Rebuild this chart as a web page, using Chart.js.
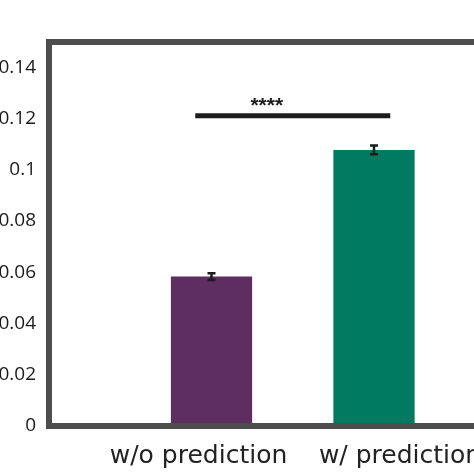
<!DOCTYPE html>
<html>
<head>
<meta charset="utf-8">
<script src="https://cdn.jsdelivr.net/npm/chart.js@4.4.1/dist/chart.umd.min.js"></script>
<style>
  html, body { margin: 0; padding: 0; background: #fff; overflow: hidden; width: 474px; height: 474px; }
  #wrap { position: absolute; left: -10px; top: 0; width: 570px; height: 474px; }
</style>
</head>
<body>
<div id="wrap"><canvas id="barChart" width="570" height="474"></canvas></div>
<script>
// data
const categories = ['', 'w/o prediction', 'w/ prediction', ''];
const meanValues = [null, 0.0583, 0.1077, null];
const errorValues = [null, 0.0013, 0.0017, null];
const barColors = ['#5d2e5f', '#5d2e5f', '#007a60', '#007a60'];
const yTickValues = [0, 0.02, 0.04, 0.06, 0.08, 0.1, 0.12, 0.14];
const yTickLabels = ['0', '0.02', '0.04', '0.06', '0.08', '0.1', '0.12', '0.14'];
const sigLevel = 0.121;
const sigLabel = '****';

const frameColor = '#4d4d4d';
const ink = '#1c1c1c';
// labels sit a little off the bar centres in the original
const xLabelSpots = [0.92, 2.16];
const xLabelText = categories.slice(1, 3);

const errorBars = {
  id: 'errorBars',
  afterDatasetsDraw(chart) {
    const { ctx, scales: { x, y } } = chart;
    ctx.save();
    ctx.strokeStyle = ink;
    ctx.lineWidth = 2.5;
    meanValues.forEach((v, i) => {
      if (v == null) return;
      const px = x.getPixelForValue(i);
      const top = y.getPixelForValue(v + errorValues[i]);
      const bot = y.getPixelForValue(v - errorValues[i]);
      ctx.beginPath();
      ctx.moveTo(px, top); ctx.lineTo(px, bot);
      ctx.moveTo(px - 4, top); ctx.lineTo(px + 4, top);
      ctx.moveTo(px - 4, bot); ctx.lineTo(px + 4, bot);
      ctx.stroke();
    });
    ctx.restore();
  }
};

const sigBar = {
  id: 'sigBar',
  afterDatasetsDraw(chart) {
    const { ctx, scales: { x, y } } = chart;
    const py = y.getPixelForValue(sigLevel);
    ctx.save();
    ctx.strokeStyle = ink;
    ctx.lineWidth = 5;
    ctx.beginPath();
    ctx.moveTo(x.getPixelForValue(0.9), py);
    ctx.lineTo(x.getPixelForValue(2.1), py);
    ctx.stroke();
    ctx.fillStyle = ink;
    ctx.font = 'bold 21px "Liberation Sans"';
    ctx.textAlign = 'center';
    ctx.textBaseline = 'alphabetic';
    ctx.fillText(sigLabel, x.getPixelForValue(1.34), py - 4);
    ctx.restore();
  }
};

new Chart(document.getElementById('barChart'), {
  type: 'bar',
  data: {
    labels: categories,
    datasets: [{
      data: meanValues,
      backgroundColor: barColors,
      borderWidth: 0,
      categoryPercentage: 1,
      barPercentage: 0.5,
    }],
  },
  options: {
    responsive: false,
    animation: false,
    layout: { padding: { top: 41.5, right: 23.5, bottom: 0, left: 0 } },
    plugins: {
      legend: { display: false },
      tooltip: { enabled: false },
    },
    scales: {
      x: {
        type: 'category',
        display: false,
        offset: false,
      },
      xLabel: {
        type: 'linear',
        position: 'bottom',
        weight: 1,
        min: 0,
        max: 3,
        offset: false,
        grid: { display: false, drawTicks: false, offset: false },
        border: { color: frameColor, width: 6, z: 1 },
        afterBuildTicks: (axis) => { axis.ticks = xLabelSpots.map((v) => ({ value: v })); },
        afterFit: (axis) => { axis.height = 48; },
        ticks: {
          autoSkip: false,
          maxRotation: 0,
          padding: 15,
          color: '#222',
          font: { family: '"DejaVu Sans"', size: 25 },
          callback: (v, i) => xLabelText[i],
        },
      },
      xTop: {
        type: 'category',
        labels: categories,
        position: 'top',
        offset: false,
        grid: { display: false, drawTicks: false },
        ticks: { display: false },
        border: { color: frameColor, width: 6, z: 1 },
        afterFit: (axis) => { axis.height = 0; },
      },
      y: {
        min: 0,
        max: 0.15,
        grid: { display: false, drawTicks: false },
        border: { color: frameColor, width: 6, z: 1 },
        afterBuildTicks: (axis) => { axis.ticks = yTickValues.map((v) => ({ value: v })); },
        afterFit: (axis) => { axis.width = 59; },
        ticks: {
          padding: 13,
          color: '#1a1a1a',
          font: { family: '"Open Sans"', size: 19 },
          callback: (v, i) => yTickLabels[i],
        },
      },
    },
  },
  plugins: [errorBars, sigBar],
});
</script>
</body>
</html>
